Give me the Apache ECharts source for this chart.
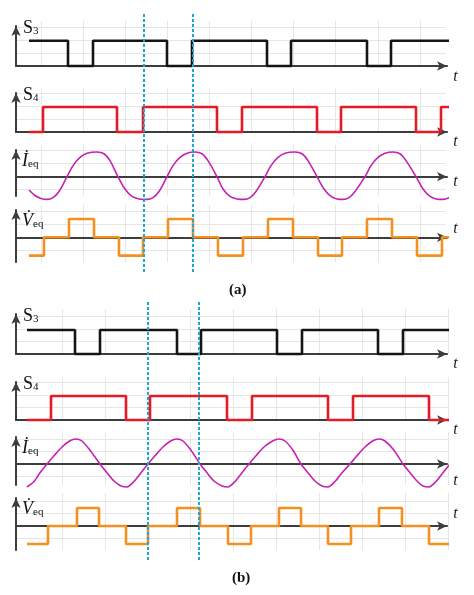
<!DOCTYPE html>
<html>
<head>
<meta charset="utf-8">
<script src="https://cdn.jsdelivr.net/npm/echarts@6/dist/echarts.min.js"></script>
<style>
html, body { margin: 0; padding: 0; background: #fff; }
#chart { width: 474px; height: 595px; }
</style>
</head>
<body>
<div id="chart"></div>
<script>
// time is counted from the vertical axis (same unit in both panels)
// (a)
const tS3a = [13, 52, 77, 151, 176, 251, 275, 351, 375, 442];
const vS3a = [1, 0, 1, 0, 1, 0, 1, 0, 1, 1];
const tS4a = [13, 27, 101, 127, 201, 226, 301, 325, 400, 425, 442];
const vS4a = [0, 1, 0, 1, 0, 1, 0, 1, 0, 1, 1];
const tIa = [13, 19, 25, 31, 37, 43, 51, 57, 64, 71, 81, 88, 94, 102, 109, 116, 123,
  131, 137, 143, 151, 157, 164, 171, 179, 186, 192, 201, 207, 214, 221,
  228, 234, 240, 249, 255, 262, 269, 279, 286, 292, 301, 308, 315, 321,
  327, 333, 339, 349, 355, 362, 369, 377, 384, 390, 400, 407, 414, 420,
  427, 433, 438, 442];
const vIa = [-0.54, -0.76, -0.88, -0.92, -0.85, -0.6, 0, 0.45, 0.78, 0.95, 1.0, 0.93, 0.65, 0, -0.5, -0.8, -0.9,
  -0.92, -0.85, -0.6, 0, 0.45, 0.78, 0.95, 1.0, 0.93, 0.65, 0, -0.5, -0.8, -0.9,
  -0.92, -0.85, -0.6, 0, 0.45, 0.78, 0.95, 1.0, 0.93, 0.65, 0, -0.5, -0.8, -0.9,
  -0.92, -0.85, -0.6, 0, 0.45, 0.78, 0.95, 1.0, 0.93, 0.65, 0, -0.5, -0.8, -0.9,
  -0.92, -0.85, -0.68, -0.46];
const tVa = [13, 28, 53, 78, 103, 127, 152, 177, 202, 227, 252, 277, 302, 326, 351, 376, 401, 426, 442];
const vVa = [-1, 0, 1, 0, -1, 0, 1, 0, -1, 0, 1, 0, -1, 0, 1, 0, -1, 0, 0];
const markA = [128, 177];

// (b)
const tS3b = [11, 59, 84, 161, 185, 261, 286, 362, 387, 438];
const vS3b = [1, 0, 1, 0, 1, 0, 1, 0, 1, 1];
const tS4b = [11, 35, 110, 134, 211, 236, 312, 337, 413, 436];
const vS4b = [0, 1, 0, 1, 0, 1, 0, 1, 0, 1];
const tIb = [11, 18, 24, 31, 38, 46, 54, 60, 66, 74, 84, 91, 98, 105,
  111, 118, 125, 132, 139, 147, 155, 161, 167, 175, 184, 191, 198, 206,
  212, 219, 226, 233, 240, 248, 257, 263, 269, 277, 285, 292, 299, 306,
  312, 319, 326, 334, 341, 349, 357, 363, 369, 378, 387, 394, 401, 407,
  413, 420, 427, 434, 437];
const vIb = [-0.92, -0.7, -0.35, 0, 0.33, 0.68, 0.93, 1.0, 0.92, 0.55, 0, -0.35, -0.68, -0.88,
  -0.92, -0.7, -0.35, 0, 0.33, 0.68, 0.93, 1.0, 0.92, 0.55, 0, -0.35, -0.68, -0.88,
  -0.92, -0.7, -0.35, 0, 0.33, 0.68, 0.93, 1.0, 0.92, 0.55, 0, -0.35, -0.68, -0.88,
  -0.92, -0.7, -0.35, 0, 0.33, 0.68, 0.93, 1.0, 0.92, 0.55, 0, -0.35, -0.68, -0.88,
  -0.92, -0.7, -0.35, 0, 0.12];
const tVb = [11, 32, 61, 83, 110, 132, 161, 184, 212, 235, 263, 285, 312, 335, 363, 386, 413, 436];
const vVb = [-1, 0, 1, 0, -1, 0, 1, 0, -1, 0, 1, 0, -1, 0, 1, 0, -1, 0];
const markB = [132, 183];

const X0 = 16, X1 = 447, TMAX = X1 - X0;
const axisColor = '#3d3d3d';
const gridColor = '#e6e6e6';
const serif = 'Liberation Serif';

const panels = {
    a: { gx0: 41, gdx: 42.1, gn: 10, gdy: 13, right: 446, markTop: 12, markBottom: 272, marks: markA },
    b: { gx0: 62, gdx: 42.9, gn: 10, gdy: 12.5, right: 448, markTop: 300, markBottom: 560, marks: markB }
};

const plots = [
    { p: 'a', label: ['S', '3'], tip: 21, zero: 66, bottom: 66, unit: 25.3, dy: 10.5, t: tS3a, v: vS3a, color: '#141414', width: 2.6, step: true },
    { p: 'a', label: ['S', '4'], tip: 88, zero: 132, bottom: 132, unit: 25, dy: 9.5, t: tS4a, v: vS4a, color: '#e51b24', width: 2.6, step: true },
    { p: 'a', label: ['\u0130', 'eq'], italic: true, tip: 145, zero: 176.7, bottom: 196, unit: 24.7, dy: 5, t: tIa, v: vIa, color: '#c522b2', width: 1.6, smooth: 0.35 },
    { p: 'a', label: ['V\u0307', 'eq'], italic: true, tip: 205, zero: 237.3, bottom: 262, unit: 18.3, dy: -9, t: tVa, v: vVa, color: '#f29020', width: 2.6, step: true },
    { p: 'b', label: ['S', '3'], tip: 309, zero: 354, bottom: 354, unit: 24, dy: 9.5, t: tS3b, v: vS3b, color: '#141414', width: 2.6, step: true },
    { p: 'b', label: ['S', '4'], tip: 377, zero: 420, bottom: 420, unit: 24, dy: 10, t: tS4b, v: vS4b, color: '#e51b24', width: 2.6, step: true },
    { p: 'b', label: ['\u0130', 'eq'], italic: true, tip: 432, zero: 464, bottom: 485, unit: 25, dy: 17, t: tIb, v: vIb, color: '#c522b2', width: 1.6, smooth: 0.25 },
    { p: 'b', label: ['V\u0307', 'eq'], italic: true, tip: 493, zero: 526, bottom: 550, unit: 18, dy: -12, t: tVb, v: vVb, color: '#f29020', width: 2.6, step: true }
];

const grid = [], xAxis = [], yAxis = [], series = [];
const hidden = { axisLine: { show: false }, axisTick: { show: false }, axisLabel: { show: false }, splitLine: { show: false } };

function addGrid (g) {
    grid.push(g);
    return grid.length - 1;
}

// light background squares
plots.forEach(function (pl) {
    const pn = panels[pl.p];
    let gi = addGrid({ left: pn.gx0, top: pl.tip, width: pn.gdx * (pn.gn - 1), height: pl.bottom - pl.tip });
    xAxis.push(Object.assign({}, hidden, { gridIndex: gi, type: 'value', min: 0, max: pn.gn - 1, interval: 1,
        splitLine: { show: true, lineStyle: { color: gridColor, width: 1 } } }));
    yAxis.push(Object.assign({}, hidden, { gridIndex: gi, type: 'value', min: 0, max: 1 }));

    const nUp = Math.floor((pl.zero - pl.tip - 2) / pn.gdy);
    const nDown = Math.floor((pl.bottom - pl.zero) / pn.gdy);
    gi = addGrid({ left: X0, top: pl.zero - nUp * pn.gdy, width: pn.right - X0, height: (nUp + nDown) * pn.gdy });
    xAxis.push(Object.assign({}, hidden, { gridIndex: gi, type: 'value', min: 0, max: 1 }));
    yAxis.push(Object.assign({}, hidden, { gridIndex: gi, type: 'value', min: -nDown, max: nUp, interval: 1,
        splitLine: { show: true, lineStyle: { color: gridColor, width: 1 } } }));
});

// waveforms
plots.forEach(function (pl) {
    const top = pl.tip + 5;
    const gi = addGrid({ left: X0, top: top, width: TMAX, height: pl.bottom - top });
    const line = { onZero: true, symbol: ['none', 'arrow'], symbolSize: [7, 10], lineStyle: { color: axisColor, width: 2 } };
    xAxis.push({
        gridIndex: gi, type: 'value', min: 0, max: TMAX,
        axisLine: line, axisTick: { show: false }, axisLabel: { show: false }, splitLine: { show: false },
        name: '{t|t}', nameLocation: 'end', nameGap: 8.5,
        nameTextStyle: {
            align: 'center', verticalAlign: 'middle',
            rich: {
                t: {
                    fontFamily: serif, fontStyle: 'italic', fontSize: 16, lineHeight: 16, color: '#222',
                    padding: pl.dy > 0 ? [2 * pl.dy, 0, 0, 0] : [0, 0, -2 * pl.dy, 0]
                }
            }
        }
    });
    yAxis.push({
        gridIndex: gi, type: 'value',
        min: -(pl.bottom - pl.zero) / pl.unit, max: (pl.zero - top) / pl.unit,
        axisLine: line, axisTick: { show: false }, axisLabel: { show: false }, splitLine: { show: false },
        name: '{m|' + pl.label[0] + '}{s|' + pl.label[1] + '}',
        nameLocation: 'end', nameGap: pl.italic ? 2 : 11,
        nameTextStyle: {
            align: 'left', verticalAlign: 'top', padding: [0, 0, 0, pl.italic ? 6 : 7],
            rich: {
                m: { fontFamily: serif, fontStyle: pl.italic ? 'italic' : 'normal', fontSize: 18, lineHeight: 22, verticalAlign: 'bottom', color: '#111' },
                s: { fontFamily: serif, fontSize: 11, lineHeight: 12, padding: [10, 0, 0, 0], verticalAlign: 'bottom', color: '#111' }
            }
        }
    });
    series.push({
        type: 'line', xAxisIndex: gi, yAxisIndex: gi,
        data: pl.t.map(function (t, i) { return [t, pl.v[i]]; }),
        step: pl.step ? 'end' : false,
        smooth: pl.smooth || false,
        symbol: 'none', showSymbol: false, clip: false,
        lineStyle: { color: pl.color, width: pl.width },
        z: 3
    });
});

// cyan dotted markers across each panel
['a', 'b'].forEach(function (k) {
    const pn = panels[k];
    const gi = addGrid({ left: X0, top: pn.markTop, width: TMAX, height: pn.markBottom - pn.markTop });
    xAxis.push(Object.assign({}, hidden, { gridIndex: gi, type: 'value', min: 0, max: TMAX }));
    yAxis.push(Object.assign({}, hidden, { gridIndex: gi, type: 'value', min: 0, max: 1 }));
    series.push({
        type: 'line', xAxisIndex: gi, yAxisIndex: gi, data: [], symbol: 'none', z: 6,
        markLine: {
            silent: true, symbol: ['none', 'none'], label: { show: false },
            lineStyle: { color: '#1ea6cf', width: 2, type: [3, 2] },
            data: pn.marks.map(function (m) { return { xAxis: m }; })
        }
    });
});

const panelRich = {
    p: { fontFamily: serif, fontSize: 15, color: '#111' },
    b: { fontFamily: serif, fontSize: 15, fontWeight: 'bold', color: '#111' }
};

const chart = echarts.init(document.getElementById('chart'));
chart.setOption({
    animation: false,
    backgroundColor: '#fff',
    title: [
        { text: '{p|(}{b|a}{p|)}', left: 229, top: 283, padding: 0, textStyle: { rich: panelRich } },
        { text: '{p|(}{b|b}{p|)}', left: 232, top: 571, padding: 0, textStyle: { rich: panelRich } }
    ],
    grid: grid,
    xAxis: xAxis,
    yAxis: yAxis,
    series: series
});
</script>
</body>
</html>
